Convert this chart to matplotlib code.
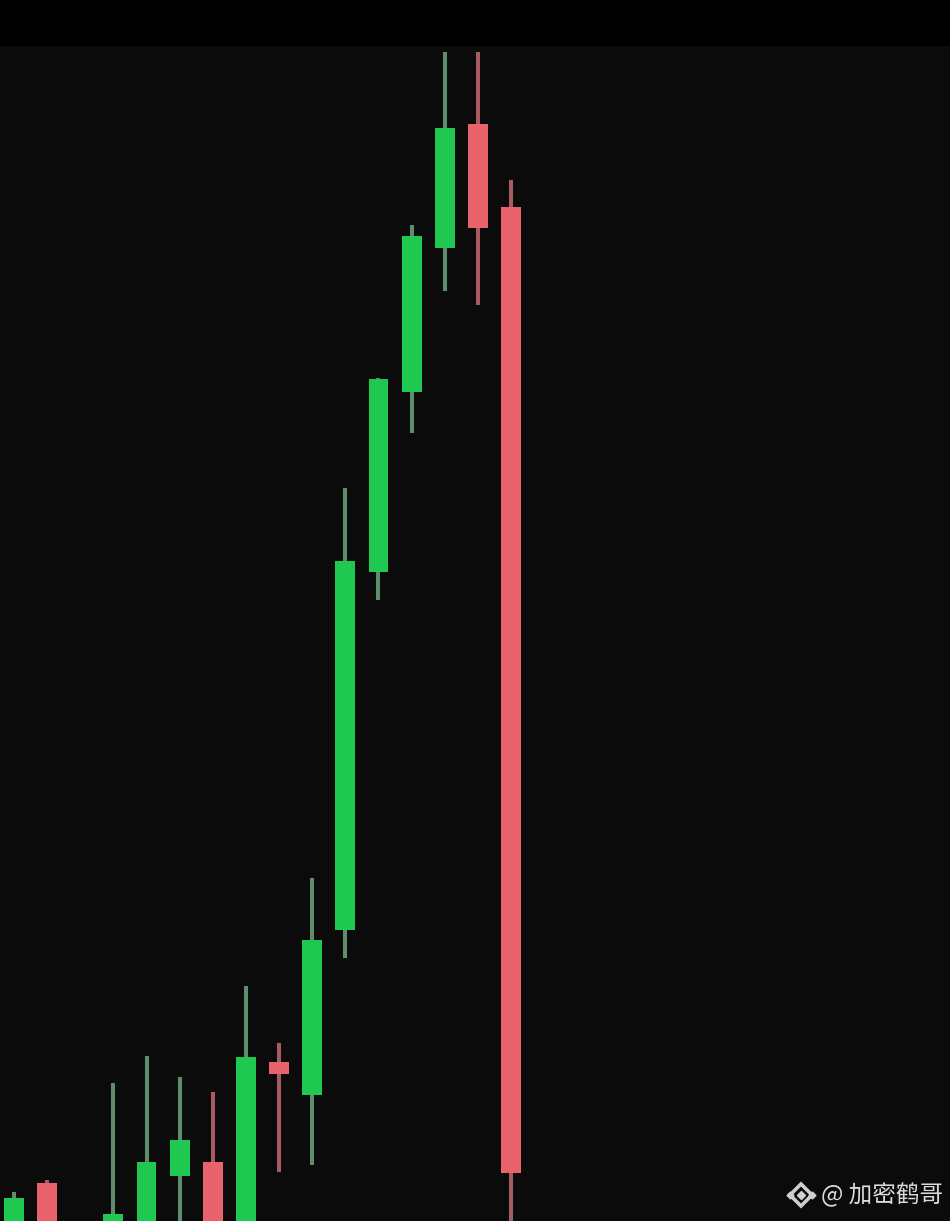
import matplotlib
matplotlib.use("Agg")
import matplotlib.pyplot as plt
from matplotlib.lines import Line2D

# Candle data (arbitrary price units)
x_pos  = [0, 1, 3, 4, 5, 6, 7, 8, 9, 10, 11, 12, 13, 14, 15]
opens  = [-1.4, 3.8, -1.0, -1.0, 4.5, 5.9, -1.0, 15.9, 12.6, 29.1, 64.9, 82.9, 97.3, 109.7, 101.4]
closes = [2.3, -1.5, 0.7, 5.9, 8.1, -1.0, 16.4, 14.7, 28.1, 66.0, 84.2, 98.5, 109.3, 99.3, 4.8]
highs  = [2.9, 4.1, 13.8, 16.5, 14.4, 12.9, 23.5, 17.8, 34.3, 73.3, 84.3, 99.6, 116.9, 116.9, 104.1]
lows   = [-3.0, -3.0, -3.0, -3.0, -3.0, -3.0, -3.0, 4.9, 5.6, 26.3, 62.1, 78.8, 93.0, 91.6, -3.0]

watermark = "@ 加密鹤哥"

UP_BODY, DOWN_BODY = "#1fc850", "#e8636b"
UP_WICK, DOWN_WICK = "#5f8c69", "#a65c62"

W, H = 950, 1221
fig = plt.figure(figsize=(W / 100, H / 100), dpi=100, facecolor="#000000")
ax = fig.add_axes([0, 0, 1, 1175 / H])
ax.set_facecolor("#0b0b0c")

for x, o, c, h, l in zip(x_pos, opens, closes, highs, lows):
    up = c >= o
    ax.vlines(x, l, h, color=UP_WICK if up else DOWN_WICK, linewidth=2.9, zorder=2)
    ax.bar(x, abs(c - o), bottom=min(o, c), width=0.6,
           color=UP_BODY if up else DOWN_BODY, edgecolor="none", zorder=3)

ax.set_xlim(-0.4226, 28.25)
ax.set_ylim(0, 117.5)
ax.set_xticks([])
ax.set_yticks([])
for s in ax.spines.values():
    s.set_visible(False)

# Watermark: Binance-like logo + handle
lx, ly = 801 / W, 1 - 1195 / H
fig.add_artist(Line2D([lx], [ly], marker="D", markersize=11, markerfacecolor="none",
                      markeredgecolor="#cfcfcf", markeredgewidth=2.6, transform=fig.transFigure))
fig.add_artist(Line2D([lx], [ly], marker="D", markersize=4, color="#cfcfcf",
                      transform=fig.transFigure))
for dx in (-11, 11):
    fig.add_artist(Line2D([lx + dx / W], [ly], marker="D", markersize=3.5, color="#cfcfcf",
                          transform=fig.transFigure))
fig.text(821 / W, ly, watermark, color="#dcdcdc", fontsize=17, va="center", ha="left",
         family=["Noto Sans CJK SC", "DejaVu Sans"])

fig.savefig("out.png", dpi=100, facecolor=fig.get_facecolor())
